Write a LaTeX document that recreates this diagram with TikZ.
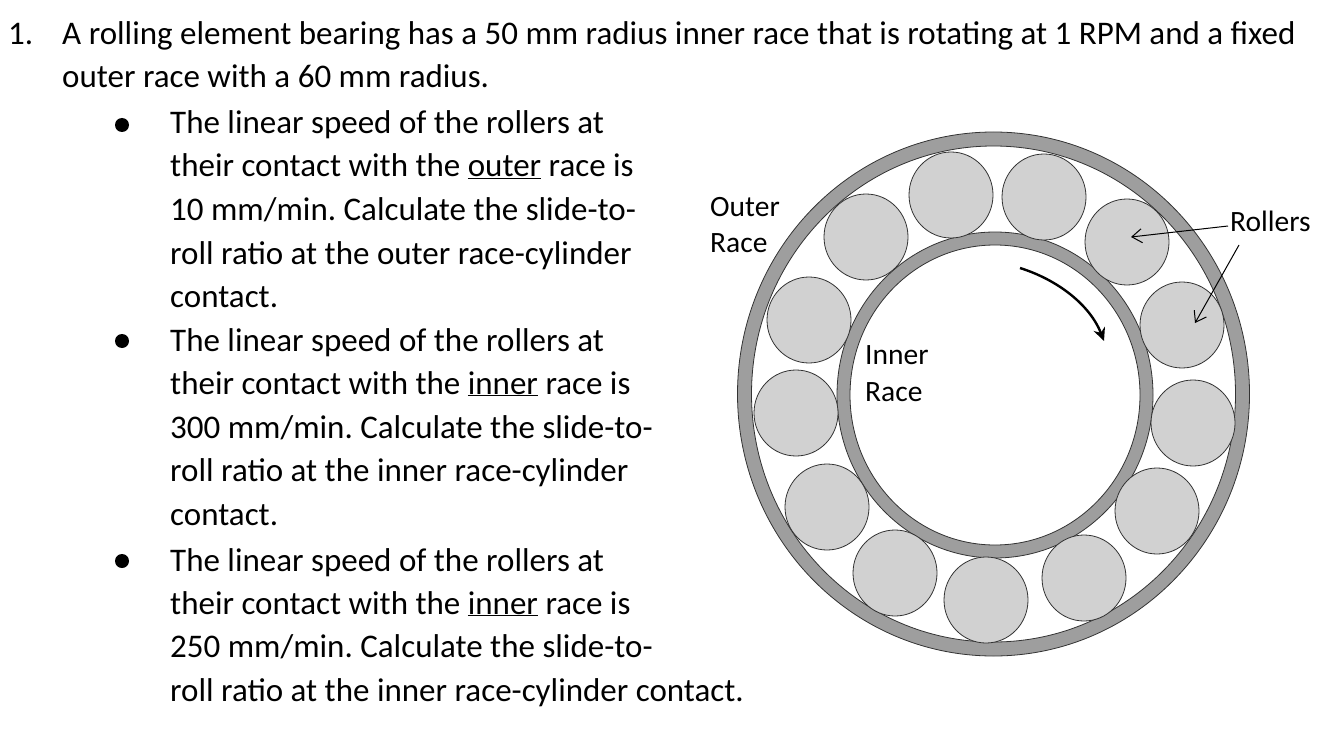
\documentclass[tikz,border=0pt]{standalone}
\usepackage{fontspec}
\setmainfont{Carlito}
\usetikzlibrary{arrows.meta}
\frenchspacing
\begin{document}
\begin{tikzpicture}[x=1pt,y=-1pt,
  txt/.style={anchor=base west,inner sep=0pt,font=\fontsize{33}{38}\selectfont},
  lbl/.style={anchor=base west,inner sep=0pt,font=\fontsize{29.5}{34}\selectfont},
  roller/.style={draw=black!80,fill=black!18,line width=0.8pt},
  race/.style={fill=black!38,draw=black!80,line width=0.8pt,even odd rule},
  pt/.style={-{Straight Barb[length=10pt,width=14pt,line width=1pt]},line width=1pt}]
\useasboundingbox (0,0) rectangle (1340,730);
% text
\node[txt] (n1) at (8,45) {1.};
\node[txt] (l1) at (62,45) {A rolling element bearing has a 50 mm radius inner race that is rotating at 1 RPM and a fixed};
\node[txt] (l2) at (62,88) {outer race with a 60 mm radius.};
\foreach \y in {125,341,561}{\fill (122,\y) circle (7);}
\node[txt] (a1) at (170,134) {The linear speed of the rollers at};
\node[txt] (a2) at (170,177) {their contact with the \underline{outer} race is};
\node[txt] (a3) at (170,220) {10 mm/min. Calculate the slide-to-};
\node[txt] (a4) at (170,264) {roll ratio at the outer race-cylinder};
\node[txt] (a5) at (170,307) {contact.};
\node[txt] (b1) at (170,351) {The linear speed of the rollers at};
\node[txt] (b2) at (170,394) {their contact with the \underline{inner} race is};
\node[txt] (b3) at (170,438) {300 mm/min. Calculate the slide-to-};
\node[txt] (b4) at (170,481) {roll ratio at the inner race-cylinder};
\node[txt] (b5) at (170,525) {contact.};
\node[txt] (c1) at (170,571) {The linear speed of the rollers at};
\node[txt] (c2) at (170,614) {their contact with the \underline{inner} race is};
\node[txt] (c3) at (170,657) {250 mm/min. Calculate the slide-to-};
\node[txt] (c4) at (170,701) {roll ratio at the inner race-cylinder contact.};
% bearing
\path[race] (993.5,394) ellipse [x radius=256,y radius=262] (993.5,394) ellipse [x radius=242,y radius=248];
\path[race] (995,395) ellipse [x radius=158,y radius=163] (995,395) ellipse [x radius=145,y radius=150];
\foreach \p [count=\i] in {(951,195),(1044,197),(1127,242),(1182,325),(1193,423),(1157,511),(1084,578),(986,600),(895,573),(827,507),(796,413),(809,320),(866,237)}
  \path[roller] \p ellipse [x radius=42,y radius=43];
\coordinate (r3) at (1131,237);
\coordinate (r4) at (1195,323);
\node[lbl] (outer) at (710,216) {Outer};
\node[lbl] (outer2) at (710,252) {Race};
\node[lbl] (inner) at (865,364) {Inner};
\node[lbl] (inner2) at (865,401) {Race};
\node[lbl] (rol) at (1230,231) {Rollers};
\draw[pt] (rol.base west) ++(-2,-5) -- (r3);
\draw[pt] (1239,245) -- (r4);
\coordinate (ra) at (1020,268);
\coordinate (rb) at (1104,341);
\draw[-{Stealth[length=13pt,width=12pt]},line width=2.4pt] (ra) .. controls (1058,280) and (1090,305) .. (rb);
\end{tikzpicture}
\end{document}
